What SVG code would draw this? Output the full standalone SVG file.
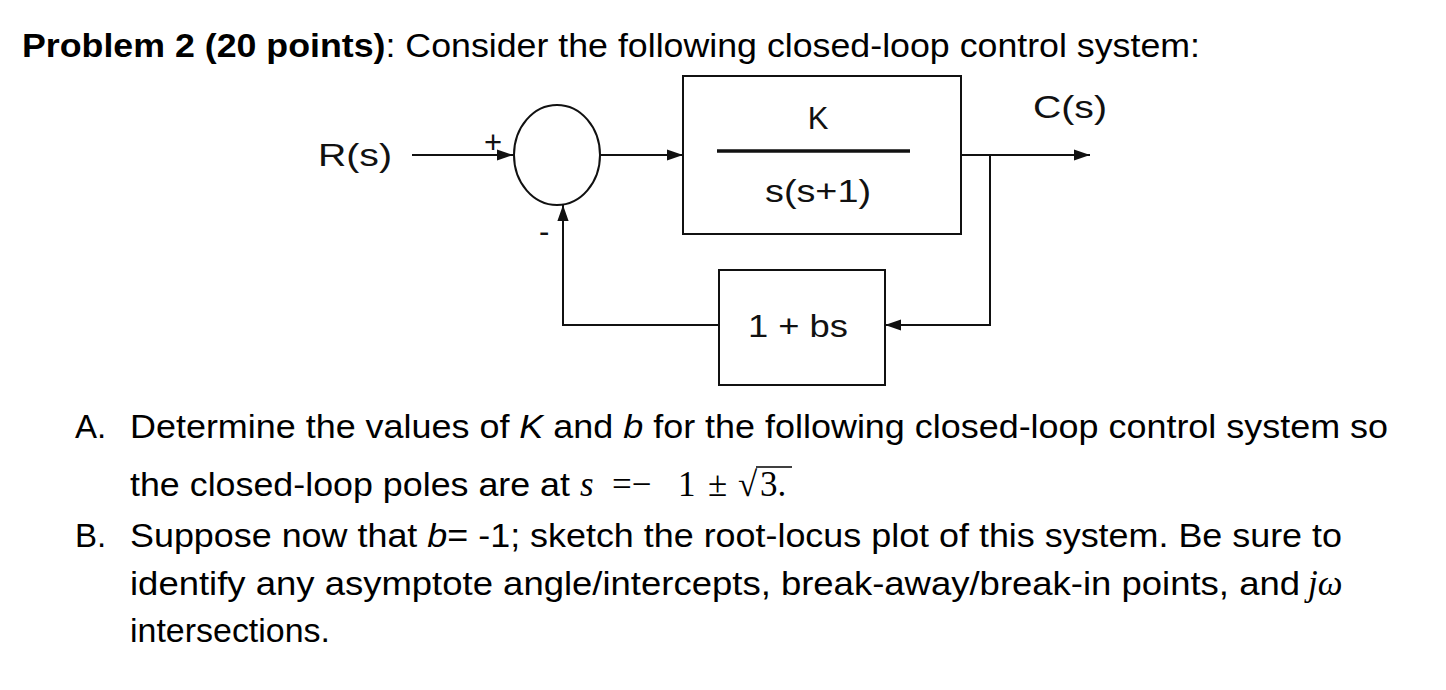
<svg xmlns="http://www.w3.org/2000/svg" width="1446" height="690" viewBox="0 0 1446 690">
<style>
.t{font-family:"Liberation Sans",Arial,sans-serif;font-size:33px;fill:#000}
.d{font-family:"Liberation Sans",Arial,sans-serif;font-size:31px;fill:#111}
.m{font-family:"Liberation Serif","Times New Roman",serif;font-size:35px;fill:#000}
.ln{stroke:#111;stroke-width:2;fill:none}
.bx{stroke:#111;stroke-width:2;fill:#fff}
</style>
<defs><marker id="b" viewBox="0 0 10 10" refX="10" refY="5" markerWidth="16" markerHeight="16" markerUnits="userSpaceOnUse" orient="auto"><path d="M0,1.5L10,5L0,8.5z" fill="#111"/></marker></defs>
<rect width="1446" height="690" fill="#fff"/>
<text class="t" x="22" y="57" textLength="1178" lengthAdjust="spacingAndGlyphs"><tspan font-weight="bold">Problem 2 (20 points)</tspan>: Consider the following closed-loop control system:</text>
<g id="sum"><ellipse cx="557" cy="155" rx="43" ry="50" class="ln"/><text class="d" x="484" y="153" font-size="24">+</text><text class="d" x="539" y="242" font-size="24">-</text></g>
<g id="R"><text class="d" x="318" y="166" textLength="74" lengthAdjust="spacingAndGlyphs">R(s)</text></g>
<g id="plant"><rect x="683" y="76" width="278" height="158" class="bx"/><text class="d" x="818" y="129" text-anchor="middle">K</text><line x1="717" y1="151" x2="910" y2="151" stroke="#111" stroke-width="3.5"/><text class="d" x="818" y="202" text-anchor="middle" textLength="106" lengthAdjust="spacingAndGlyphs">s(s+1)</text></g>
<g id="C"><text class="d" x="1070" y="118" text-anchor="middle" textLength="74" lengthAdjust="spacingAndGlyphs">C(s)</text></g>
<g id="fb"><rect x="719" y="270" width="166" height="115" class="bx"/><text class="d" x="798" y="337" text-anchor="middle" textLength="100" lengthAdjust="spacingAndGlyphs">1 + bs</text></g>
<g id="connectors">
<line x1="412" y1="155" x2="513" y2="155" class="ln" marker-end="url(#b)"/>
<line x1="600" y1="155" x2="683" y2="155" class="ln" marker-end="url(#b)"/>
<line x1="961" y1="155" x2="1090" y2="155" class="ln" marker-end="url(#b)"/>
<polyline points="990,155 990,325 885,325" class="ln" marker-end="url(#b)"/>
<polyline points="719,325 563,325 563,205" class="ln" marker-end="url(#b)"/>
</g>
<text class="t" x="75" y="438">A.</text>
<text class="t" x="130" y="438" textLength="1258" lengthAdjust="spacingAndGlyphs">Determine the values of <tspan font-style="italic">K</tspan> and <tspan font-style="italic">b</tspan> for the following closed-loop control system so</text>
<text class="t" x="130" y="496" textLength="440" lengthAdjust="spacingAndGlyphs">the closed-loop poles are at</text>
<text class="m" x="580" y="496" font-style="italic">s</text>
<text class="m" x="612" y="496">=−</text>
<text class="m" x="678" y="496">1</text>
<text class="m" x="708" y="496">±</text>
<text class="m" x="738" y="496">√</text>
<line x1="756" y1="467" x2="792" y2="467" stroke="#000" stroke-width="1.5"/>
<text class="m" x="760" y="496">3.</text>
<text class="t" x="75" y="547">B.</text>
<text class="t" x="130" y="547" textLength="1212" lengthAdjust="spacingAndGlyphs">Suppose now that <tspan font-style="italic">b</tspan>= -1; sketch the root-locus plot of this system. Be sure to</text>
<text class="t" x="130" y="595" textLength="1170" lengthAdjust="spacingAndGlyphs">identify any asymptote angle/intercepts, break-away/break-in points, and</text>
<text class="m" x="1308" y="595" font-style="italic">jω</text>
<text class="t" x="130" y="642" textLength="200" lengthAdjust="spacingAndGlyphs">intersections.</text>
</svg>
